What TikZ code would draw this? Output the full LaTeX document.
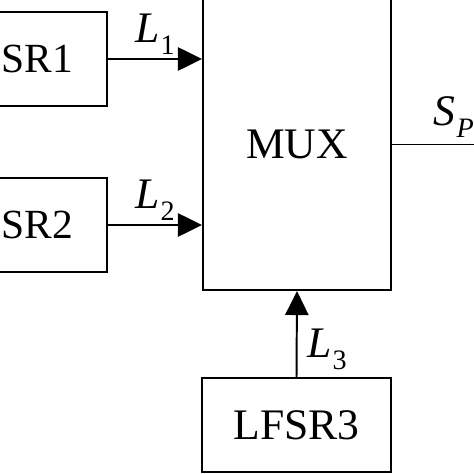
\documentclass[tikz,border=0pt]{standalone}
\usepackage{fontspec}
\setmainfont{Liberation Serif}
\usetikzlibrary{arrows.meta}
\usetikzlibrary{positioning}
\tikzset{
  block/.style={draw, rectangle, line width=1.4pt, minimum width=4.725cm, minimum height=2.35cm, inner sep=0, font=\fontsize{31}{36}\selectfont},
  sidebox/.style={block, text width=3.025cm, align=right, inner xsep=0.85cm, font=\fontsize{29.5}{34}\selectfont},
  link/.style={-{Triangle[length=0.6cm, width=0.58cm]}, line width=1.4pt},
  siglabel/.style={inner sep=2.5pt, font=\fontsize{31}{36}\selectfont}
}
\newcommand{\sig}[2]{\textit{#1}\kern0.03em\raisebox{-0.27em}{\fontsize{20}{20}\selectfont #2}}

\begin{document}
\begin{tikzpicture}[x=0.025cm, y=-0.025cm]
            \useasboundingbox (0,0) rectangle (474,474);
            \clip (0,0) rectangle (474,474);

            % Shift registers on the left
            \node[sidebox] (sr1) at (12.5, 59) {SR1};
            \node[sidebox] (sr2) at (12.5, 225) {SR2};

            % Multiplexer
            \node[block, minimum width=4.7cm, minimum height=7.275cm] (mux) at (297, 144.5) {MUX};

            % Control register
            \node[block] (lfsr3) at (296.5, 425) {LFSR3};

            % Inputs to the multiplexer
            \draw[link] (sr1.east) -- (sr1.east -| mux.west) node[midway, above, siglabel] {\sig{L}{1}};
            \draw[link] (sr2.east) -- (sr2.east -| mux.west) node[midway, above, siglabel] {\sig{L}{2}};
            \draw[link] (lfsr3.north) -- (mux.south) node[pos=0.32, right=0.15cm, siglabel] {\sig{L}{3}};

            % Output
            \coordinate (sp) at (560, 144.5);
            \draw[line width=1.4pt] (mux.east) -- (sp) node[pos=0.22, above right, siglabel, yshift=2pt] {\sig{S}{\textit{P}}};
        \end{tikzpicture}
\end{document}
